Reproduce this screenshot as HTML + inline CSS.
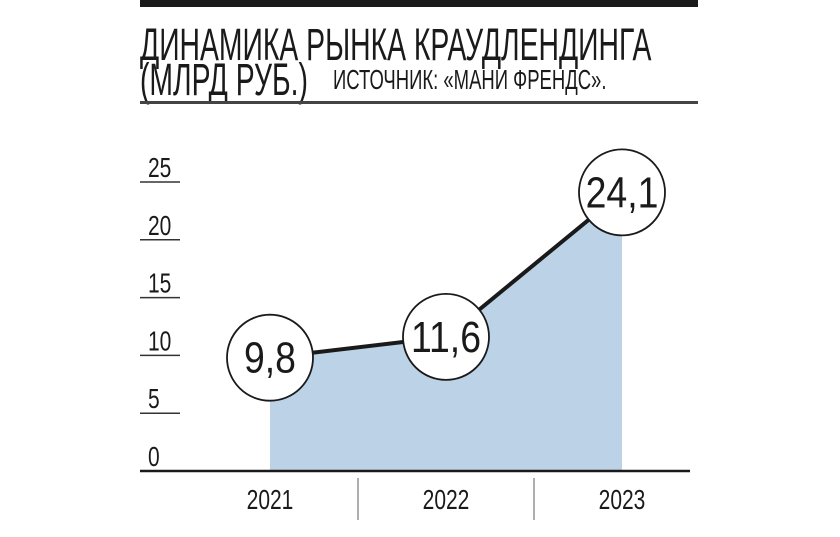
<!DOCTYPE html>
<html><head><meta charset="utf-8"><style>
body{margin:0;background:#fff;width:840px;height:532px;overflow:hidden;font-family:"Liberation Sans",sans-serif}
svg text{font-family:"Liberation Sans",sans-serif}
</style></head><body>
<svg width="840" height="532">
<rect x="140" y="0" width="558" height="7" fill="#1a1a1a"/>
<text x="140" y="60" font-size="45" fill="#1a1a1a" transform="translate(140 0) scale(0.63 1) translate(-140 0)">ДИНАМИКА РЫНКА КРАУДЛЕНДИНГА</text>
<text x="140" y="95" font-size="45" fill="#1a1a1a" transform="translate(140 0) scale(0.63 1) translate(-140 0)">(МЛРД РУБ.)</text>
<text x="333" y="89" font-size="28" fill="#1a1a1a" transform="translate(333 0) scale(0.66 1) translate(-333 0)">ИСТОЧНИК: «МАНИ ФРЕНДС».</text>
<rect x="140" y="101" width="558" height="3" fill="#444"/>
<g id="plot"></g>
</svg>
<script>
const years=["2021","2022","2023"];
const values=[9.8,11.6,24.1];
const labels=["9,8","11,6","24,1"];
const ticks=[0,5,10,15,20,25];
const NS="http://www.w3.org/2000/svg";
const g=document.getElementById("plot");
const y=v=>471-11.56*v;
const x=i=>270+176*i;
function mk(t,a){const e=document.createElementNS(NS,t);for(const k in a)e.setAttribute(k,a[k]);g.appendChild(e);return e;}
ticks.forEach(t=>{
  if(t>0){const l=mk("line",{x1:140,x2:180,y1:y(t),y2:y(t),stroke:"#333","stroke-width":1.5});
  
  }
  const tx=mk("text",{x:148,y:y(t)-5,"font-size":28,fill:"#1a1a1a",transform:`translate(148 0) scale(0.75 1) translate(-148 0)`});
  tx.textContent=t;
  
  
});
let d=`M${x(0)},${y(0)}`;values.forEach((v,i)=>d+=` L${x(i)},${y(v)}`);d+=` L${x(values.length-1)},${y(0)} Z`;
const area=mk("path",{d:d,fill:"#bcd2e6"});


const base=mk("line",{x1:140,x2:690,y1:y(0),y2:y(0),stroke:"#1a1a1a","stroke-width":2.5});


const ln=mk("polyline",{points:values.map((v,i)=>x(i)+","+y(v)).join(" "),fill:"none",stroke:"#1a1a1a","stroke-width":4});


[1,2].forEach(i=>{const s=mk("line",{x1:x(i)-88,x2:x(i)-88,y1:478,y2:520,stroke:"#777","stroke-width":1.2});
  
  });
values.forEach((v,i)=>{
  const c=mk("circle",{cx:x(i),cy:y(v),r:43,fill:"#fff",stroke:"#1a1a1a","stroke-width":1.8});
  
  
  const t=mk("text",{x:x(i),y:y(v)+15,"font-size":44,"text-anchor":"middle",fill:"#1a1a1a",transform:`translate(${x(i)} 0) scale(0.85 1) translate(${-x(i)} 0)`});
  t.textContent=labels[i];
  
  
  const yl=mk("text",{x:x(i),y:509,"font-size":28,"text-anchor":"middle",fill:"#1a1a1a",transform:`translate(${x(i)} 0) scale(0.75 1) translate(${-x(i)} 0)`});
  yl.textContent=years[i];
  
  
});
</script>
</body></html>
